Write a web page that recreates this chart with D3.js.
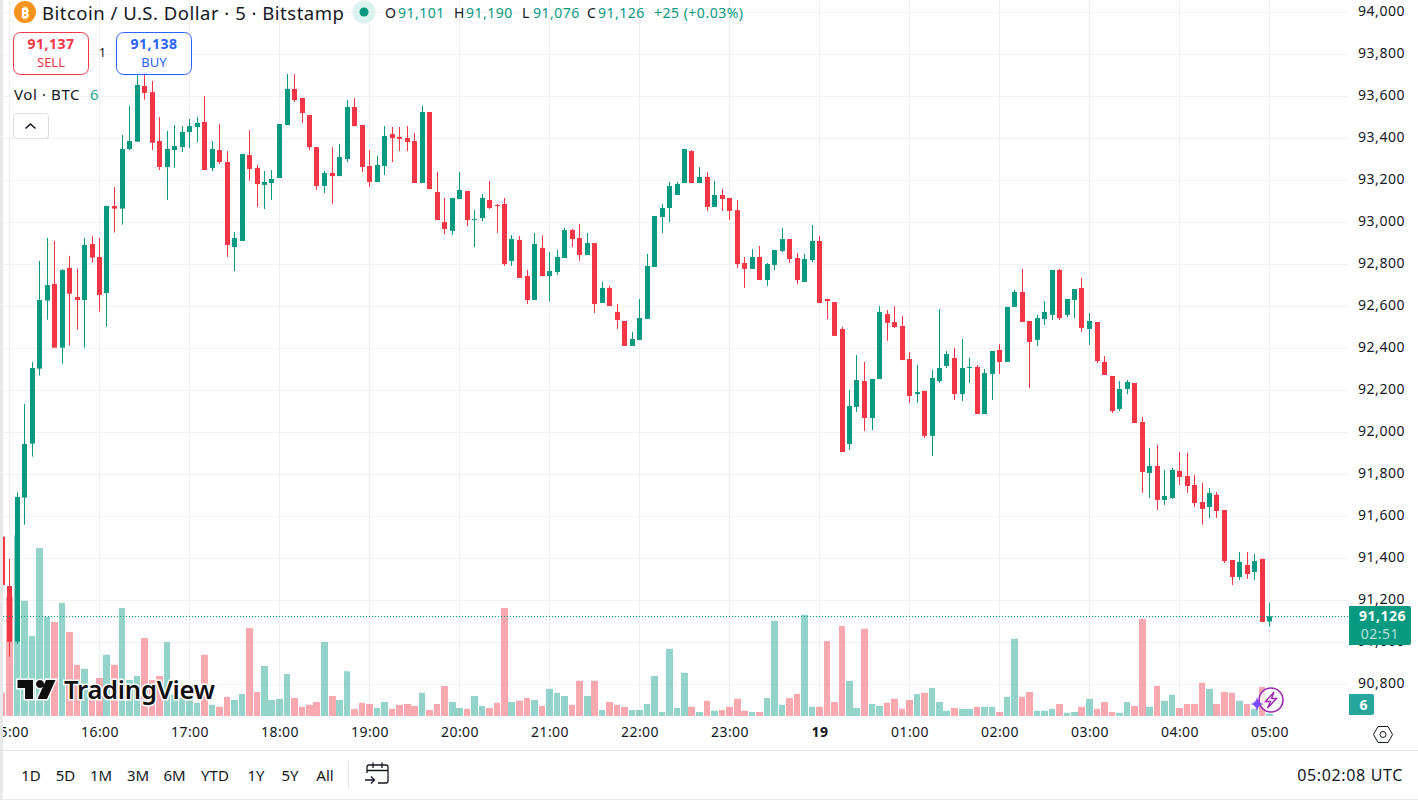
<!DOCTYPE html>
<html><head><meta charset="utf-8"><title>Bitcoin / U.S. Dollar</title>
<script src="https://d3js.org/d3.v7.min.js"></script>
<style>
html,body{margin:0;padding:0;background:#fff;overflow:hidden}
svg{display:block}
text{font-family:"Noto Sans",sans-serif;fill:#131722}
</style></head><body><svg id="c" width="1418" height="800"></svg>
<script>
// one row per five-minute bar, first bar is 14:55 on the 18th
const opens=[91505,91270,91005,91691,91948,92305,92629,92708,92405,92785,92646,92632,92899,92837,92665,93080,93067,93351,93386,93651,93622,93389,93265,93346,93360,93432,93456,93480,93261,93346,93289,92884,92913,93322,93261,93180,93189,93213,93465,93637,93594,93513,93360,93175,
93237,93222,93303,93551,93465,93270,93194,93270,93422,93408,93403,93389,93189,93527,93146,93003,92961,93113,93151,93013,93022,93108,93084,93089,92818,92918,92746,92632,92880,92746,92765,92832,92965,92927,92846,92903,
92618,92689,92575,92532,92413,92442,92542,92789,93027,93070,93132,93189,93341,93189,93218,93075,93132,93118,93060,92808,92780,92837,92727,92799,92865,92922,92832,92718,92822,92913,92637,92622,92494,91946,92123,92246,92070,92256,92565,92527,92508,92351,92184,92199,91985,92246,92318,92356,92184,92308,92313,92089,92280,92394,92337,92599,92670,92532,92442,92541,92561,92775,92561,92632,92689,92494,92527,92337,92270,92113,92208,92237,92051,91808,91842,91680,91689,91818,91794,91751,91670,91646,91704,91632,91394,91313,91370,91337,91399,91101];
const highs=[91505,91399,91716,92137,92337,92818,92927,92913,92778,92842,92780,92927,92937,92927,93080,93170,93418,93556,93720,93720,93675,93503,93437,93465,93460,93494,93503,93603,93389,93470,93341,92956,93327,93441,93275,93246,93251,93470,93708,93708,93594,93513,93360,93246,
93360,93375,93584,93594,93465,93346,93318,93460,93456,93456,93460,93427,93556,93527,93241,93118,93118,93241,93151,93060,93137,93199,93089,93118,92941,92937,92775,92951,92941,92860,92870,92975,92970,92994,92951,92903,
92718,92699,92613,92532,92480,92637,92851,93032,93089,93194,93194,93351,93346,93265,93241,93199,93160,93118,93108,92837,92875,92889,92808,92870,92975,92922,92856,92851,92989,92937,92637,92622,92504,92204,92370,92337,92256,92603,92584,92603,92556,92384,92323,92199,92299,92589,92389,92403,92446,92356,92322,92303,92389,92422,92599,92680,92780,92532,92561,92627,92775,92780,92637,92684,92737,92570,92527,92365,92270,92246,92251,92237,92075,91927,91942,91823,91832,91908,91904,91799,91761,91737,91718,91632,91394,91432,91432,91423,91399,91190];
const lows=[91275,90934,90994,91562,91886,92272,92538,92405,92329,92415,92491,92405,92810,92577,92505,92953,92991,93346,93386,93586,93346,93251,93108,93261,93337,93356,93384,93251,93246,93280,92837,92770,92913,93199,93075,93065,93108,93213,93465,93575,93475,93346,93156,93141,
93089,93222,93289,93460,93241,93170,93194,93227,93289,93341,93341,93189,93189,93160,93013,92946,92942,93113,92984,92884,93008,93065,92951,92794,92794,92737,92613,92632,92746,92627,92751,92832,92884,92818,92846,92570,
92618,92603,92494,92413,92413,92442,92542,92789,92951,93003,93132,93189,93189,93189,93056,93075,93056,93013,92784,92689,92780,92727,92699,92775,92860,92808,92708,92718,92813,92618,92541,92461,91908,91918,92099,92008,92013,92256,92437,92499,92346,92142,92142,91975,91889,92237,92308,92156,92151,92237,92089,92089,92156,92280,92337,92599,92527,92213,92413,92513,92537,92537,92551,92546,92480,92418,92332,92275,92094,92103,92184,92046,91713,91689,91632,91656,91684,91751,91713,91646,91561,91594,91594,91380,91275,91299,91304,91299,91099,91076];
const closes=[91275,91005,91694,91946,92308,92632,92703,92405,92775,92662,92632,92894,92834,92656,93080,93067,93351,93389,93656,93618,93381,93265,93351,93365,93432,93460,93475,93251,93351,93289,92894,92927,93327,93256,93184,93194,93208,93470,93637,93584,93522,93360,93175,93237,
93222,93313,93551,93460,93265,93194,93275,93413,93403,93399,93384,93189,93527,93160,93013,92970,93118,93156,93013,93017,93118,93070,93079,92803,92922,92737,92632,92899,92746,92770,92837,92965,92922,92846,92903,92613,
92689,92603,92537,92413,92446,92546,92794,93032,93070,93175,93184,93351,93189,93218,93075,93132,93113,93056,92803,92780,92837,92727,92803,92870,92922,92827,92727,92827,92913,92618,92627,92461,91908,92127,92251,92070,92256,92575,92523,92503,92346,92175,92194,91985,92261,92308,92375,92184,92308,92313,92089,92284,92389,92337,92599,92670,92527,92432,92546,92575,92775,92546,92637,92684,92499,92532,92341,92275,92103,92208,92242,92046,91813,91842,91680,91699,91823,91789,91746,91665,91637,91713,91627,91389,91313,91385,91327,91389,91099,91126];
const volumes=[58,299,452,288,200,420,248,235,283,210,128,118,75,95,153,128,270,90,100,195,90,100,185,53,45,40,33,153,28,23,48,40,55,220,60,125,40,43,105,45,23,28,35,185,50,40,112,18,33,30,20,35,18,28,30,25,58,15,30,75,35,20,18,50,25,20,33,270,35,38,45,40,25,68,58,50,28,88,50,88,15,35,28,23,15,15,30,100,10,168,20,108,23,10,38,13,15,23,43,13,10,10,45,238,28,45,55,253,23,23,187,35,225,88,20,218,30,25,33,43,18,40,55,58,70,35,13,20,18,18,23,23,23,10,48,193,48,60,13,13,18,30,8,10,23,43,18,35,10,8,35,25,243,23,75,38,53,20,30,30,83,68,30,60,58,38,30,18,73,6];
const priceTicks=[94000,93800,93600,93400,93200,93000,92800,92600,92400,92200,92000,91800,91600,91400,91200,91000,90800];
const timeTicks=[0,1,2,3,4,5,6,7,8,9,10,11,12,13,14];
const timeLabels=["15:00","16:00","17:00","18:00","19:00","20:00","21:00","22:00","23:00","19","01:00","02:00","03:00","04:00","05:00"];
const ranges=["1D","5D","1M","3M","6M","YTD","1Y","5Y","All"];
const rangeX=[31,65.5,101,138,174.5,215,256,290,325];
const lastPrice=91126;

const GREEN="#089981",RED="#f23645";
const svg=d3.select("#c");
const x=d3.scaleLinear().domain([0,14]).range([9.5,1269.5]);
const y=d3.scaleLinear().domain([93600,90800]).range([96.7,684.7]);
const v=d3.scaleLinear().domain([0,450]).range([716,536]);
const bars=opens.map((o,i)=>({o,h:highs[i],l:lows[i],c:closes[i],vol:volumes[i],t:(i-1)/12}));
const cx=d=>x(d.t);
const col=d=>d.c>=d.o?GREEN:RED;

svg.append("defs").append("clipPath").attr("id","plot").append("rect").attr("x",3).attr("y",0).attr("width",1345).attr("height",716);

// grid
const grid=svg.append("g").attr("clip-path","url(#plot)");
grid.selectAll("line.h").data(priceTicks).join("line").attr("x1",3).attr("x2",1348)
 .attr("y1",d=>Math.floor(y(d))+.5).attr("y2",d=>Math.floor(y(d))+.5).attr("stroke","#f2f2f3");
grid.selectAll("line.v").data(timeTicks).join("line").attr("y1",0).attr("y2",716)
 .attr("x1",d=>Math.floor(x(d))+.5).attr("x2",d=>Math.floor(x(d))+.5).attr("stroke","#f0f0f2");

// volume
const plot=svg.append("g").attr("clip-path","url(#plot)");
plot.selectAll("rect.vol").data(bars).join("rect").attr("class","vol")
 .attr("x",d=>Math.floor(cx(d))-3).attr("width",d=>Math.ceil(cx(d))+3-(Math.floor(cx(d))-3))
 .attr("y",d=>v(d.vol)).attr("height",d=>716-v(d.vol)).attr("fill",col).attr("opacity",.43);

// watermark
const wm=svg.append("g");
wm.append("path").attr("d","M17.5 680H33V699H25V688H17.5ZM40 680a4 4 0 1 1-.01 0ZM46 680H55.5L47 699H37.5Z")
 .attr("fill","#0f0f0f").attr("stroke","#fff").attr("stroke-width",3).attr("paint-order","stroke");
wm.append("text").attr("x",64).attr("y",699).attr("font-size",25.6).attr("font-weight",600).attr("letter-spacing","-.25px")
 .attr("stroke","#fff").attr("stroke-width",3).attr("paint-order","stroke").style("fill","#0f0f0f").text("TradingView");

// last price line
svg.append("line").attr("x1",3).attr("x2",1349).attr("y1",Math.floor(y(lastPrice))+.5).attr("y2",Math.floor(y(lastPrice))+.5)
 .attr("stroke",GREEN).attr("stroke-dasharray","1 2");

// candles
plot.selectAll("rect.w").data(bars).join("rect").attr("class","w")
 .attr("x",d=>Math.floor(cx(d))).attr("width",1)
 .attr("y",d=>y(d.h)).attr("height",d=>Math.max(1,y(d.l)-y(d.h))).attr("fill",col);
plot.selectAll("rect.b").data(bars).join("rect").attr("class","b")
 .attr("x",d=>Math.floor(cx(d))-2).attr("width",5)
 .attr("y",d=>y(Math.max(d.o,d.c))).attr("height",d=>Math.max(1,Math.abs(y(d.o)-y(d.c)))).attr("fill",col);

// price axis
const yAxis=d3.axisRight(y).tickValues(priceTicks).tickSize(0).tickPadding(0).tickFormat(d3.format(","));
const ya=svg.append("g").attr("transform","translate(1358,-2)").call(yAxis);
ya.select(".domain").remove();
ya.selectAll("text").attr("font-size",14).attr("letter-spacing",".55px").attr("dy","0.32em").style("font-family",'"Noto Sans",sans-serif').style("fill","#131722");

// time axis
const xAxis=d3.axisBottom(x).tickValues(timeTicks).tickSize(0).tickPadding(0).tickFormat((d,i)=>timeLabels[i]);
const xa=svg.append("g").attr("transform","translate(0,727.5)").call(xAxis);
xa.select(".domain").remove();
xa.selectAll("text").attr("font-size",14).attr("letter-spacing",".4px").attr("dy","0.71em").style("font-family",'"Noto Sans",sans-serif').style("fill","#131722")
 .attr("font-weight",(d,i)=>timeLabels[i]==="19"?700:400);

// frame
svg.append("rect").attr("x",0).attr("y",0).attr("width",3).attr("height",800).attr("fill","#e8e8e8");
svg.append("line").attr("x1",3).attr("x2",1418).attr("y1",750.5).attr("y2",750.5).attr("stroke","#e6e6e6");
svg.append("line").attr("x1",3).attr("x2",1418).attr("y1",799.5).attr("y2",799.5).attr("stroke","#e8e8e8");

// price tags
svg.append("path").attr("d","M1349 606H1409a2 2 0 0 1 2 2V643a2 2 0 0 1-2 2H1349Z").attr("fill",GREEN);
svg.append("text").attr("x",1382.5).attr("y",621).attr("text-anchor","middle").attr("font-size",14).attr("font-weight",700).style("fill","#fff").attr("letter-spacing",".5px").text(d3.format(",")(lastPrice));
svg.append("text").attr("x",1380).attr("y",639).attr("text-anchor","middle").attr("font-size",14).style("fill","#b5e0d9").attr("letter-spacing",".5px").text("02:51");
svg.append("path").attr("d","M1349 694H1372a2 2 0 0 1 2 2V713a2 2 0 0 1-2 2H1349Z").attr("fill","#26a69a");
svg.append("text").attr("x",1363.5).attr("y",710).attr("text-anchor","middle").attr("font-size",14).attr("font-weight",700).style("fill","#fff").text(volumes[volumes.length-1]);

// settings hexagon
svg.append("path").attr("d","M1378 726.5H1388L1392.5 734.5L1388 742.5H1378L1373.5 734.5Z").attr("fill","none").attr("stroke","#131722");
svg.append("circle").attr("cx",1383).attr("cy",734.5).attr("r",3).attr("fill","none").attr("stroke","#131722");

// spark icon
svg.append("circle").attr("cx",1271).attr("cy",700).attr("r",12).attr("fill","#ffffff").attr("fill-opacity",.75).attr("stroke","#9c27b0").attr("stroke-width",1.6);
svg.append("path").attr("d","M1274 692L1265.5 701.5H1270.5L1267.5 708L1276.5 698.5H1271.5Z").attr("fill","none").attr("stroke","#9c27b0").attr("stroke-width",1.4);
svg.append("path").attr("d","M1257 697Q1258 703 1263.5 704Q1258 705 1257 711Q1256 705 1250.5 704Q1256 703 1257 697Z").attr("fill","#7c4dff");

// header
svg.append("circle").attr("cx",25).attr("cy",12).attr("r",11).attr("fill","#f7931a");
svg.append("text").attr("x",25).attr("y",17.5).attr("text-anchor","middle").attr("font-size",15).attr("font-weight",700).style("fill","#fff").text("₿");
svg.append("text").attr("x",42).attr("y",19.5).attr("font-size",18.5).attr("letter-spacing",".5px").text("Bitcoin / U.S. Dollar · 5 · Bitstamp");
svg.append("circle").attr("cx",364).attr("cy",12).attr("r",11.5).attr("fill","#dcf2ee");
svg.append("circle").attr("cx",364).attr("cy",12).attr("r",4.5).attr("fill",GREEN);
const hdr=[["O",385,"#131722"],["91,101",398,GREEN],["H",454,"#131722"],["91,190",466,GREEN],["L",522,"#131722"],["91,076",533,GREEN],["C",587,"#131722"],["91,126",598,GREEN],["+25 (+0.03%)",654,GREEN]];
svg.append("g").selectAll("text").data(hdr).join("text").attr("x",d=>d[1]).attr("y",18).attr("font-size",14).attr("letter-spacing",".5px")
 .style("fill",d=>d[2]).text(d=>d[0]);

// buttons
function btn(x0,c,a,b){
 svg.append("rect").attr("x",x0+.5).attr("y",32.5).attr("width",75).attr("height",42).attr("rx",7).attr("fill","#fff").attr("stroke",c);
 svg.append("text").attr("x",x0+38).attr("y",49).attr("text-anchor","middle").attr("font-size",14).attr("font-weight",700).attr("letter-spacing",".5px").style("fill",c).text(a);
 svg.append("text").attr("x",x0+38).attr("y",67).attr("text-anchor","middle").attr("font-size",13).style("fill",c).text(b);
}
btn(13,RED,"91,137","SELL");
btn(116,"#2962ff","91,138","BUY");
svg.append("text").attr("x",102.5).attr("y",57).attr("text-anchor","middle").attr("font-size",12).text("1");
svg.append("text").attr("x",14).attr("y",99.5).attr("font-size",15).attr("letter-spacing",".6px").text("Vol · BTC");
svg.append("text").attr("x",90).attr("y",99.5).attr("font-size",15).style("fill","#26a69a").text(volumes[volumes.length-1]);
svg.append("rect").attr("x",13.5).attr("y",113.5).attr("width",35).attr("height",25).attr("rx",3).attr("fill","#fff").attr("stroke","#e0e0e0");
svg.append("path").attr("d","M25.5 128.5L30.5 124L35.5 128.5").attr("fill","none").attr("stroke","#131722").attr("stroke-width",1.5);

// bottom toolbar
svg.append("g").selectAll("text").data(ranges).join("text").attr("x",(d,i)=>rangeX[i]).attr("y",780.5).attr("text-anchor","middle").attr("font-size",15).text(d=>d);
svg.append("line").attr("x1",348.5).attr("x2",348.5).attr("y1",761).attr("y2",789).attr("stroke","#e6e6e6");
svg.append("path").attr("d","M367 773V767a2 2 0 0 1 2-2H386a2 2 0 0 1 2 2V781a2 2 0 0 1-2 2H378M367 770.5H388M373 762.5V768M382 762.5V768M365 780H374M371 776.5L374.5 780L371 783.5")
 .attr("fill","none").attr("stroke","#131722").attr("stroke-width",1.3);
svg.append("text").attr("x",1403).attr("y",781).attr("text-anchor","end").attr("font-size",16).attr("letter-spacing",".65px").text("05:02:08 UTC");
</script></body></html>
